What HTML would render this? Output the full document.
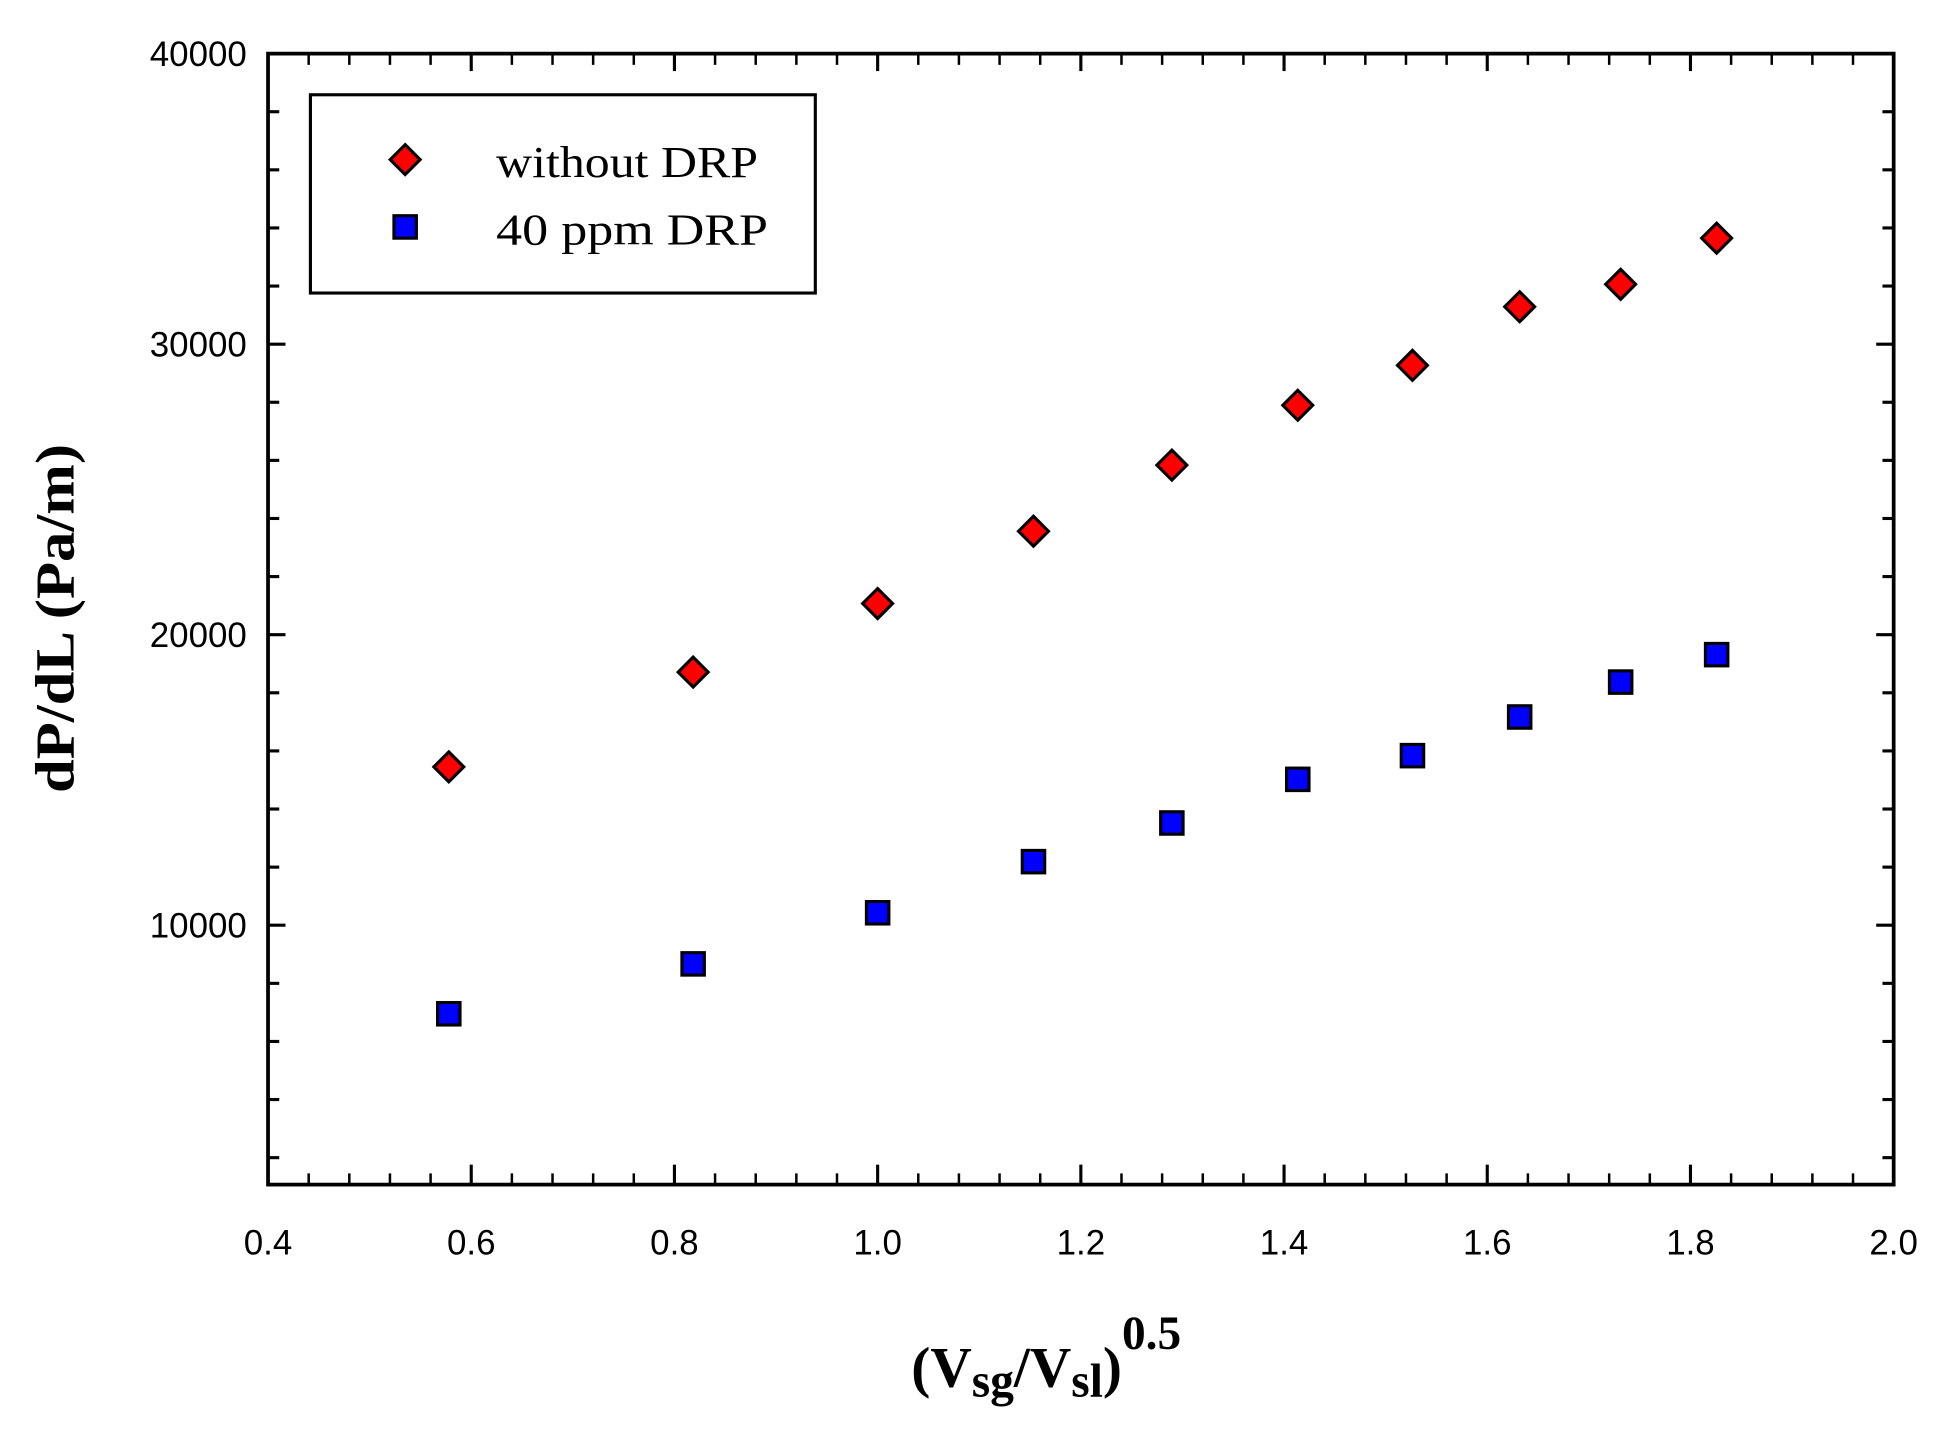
<!DOCTYPE html>
<html><head><style>html,body{margin:0;padding:0;background:#fff}svg{display:block}</style></head>
<body>
<svg width="1956" height="1429" viewBox="1 0 1569 1146" preserveAspectRatio="none" xmlns="http://www.w3.org/2000/svg">
<rect x="0" width="1570" height="1146" fill="#fff"/>
<g stroke="#000" stroke-width="3" fill="none">
<rect x="216" y="43" width="1304" height="907"/>
</g>
<g stroke="#000" stroke-width="2.5">
<line x1="216" y1="43" x2="230" y2="43"/><line x1="1506" y1="43" x2="1520" y2="43"/>
<line x1="216" y1="276" x2="230" y2="276"/><line x1="1506" y1="276" x2="1520" y2="276"/>
<line x1="216" y1="509" x2="230" y2="509"/><line x1="1506" y1="509" x2="1520" y2="509"/>
<line x1="216" y1="742" x2="230" y2="742"/><line x1="1506" y1="742" x2="1520" y2="742"/>
<line x1="216" y1="89.6" x2="225" y2="89.6"/><line x1="216" y1="136.2" x2="225" y2="136.2"/><line x1="216" y1="182.8" x2="225" y2="182.8"/><line x1="216" y1="229.4" x2="225" y2="229.4"/>
<line x1="216" y1="322.6" x2="225" y2="322.6"/><line x1="216" y1="369.2" x2="225" y2="369.2"/><line x1="216" y1="415.8" x2="225" y2="415.8"/><line x1="216" y1="462.4" x2="225" y2="462.4"/>
<line x1="216" y1="555.6" x2="225" y2="555.6"/><line x1="216" y1="602.2" x2="225" y2="602.2"/><line x1="216" y1="648.8" x2="225" y2="648.8"/><line x1="216" y1="695.4" x2="225" y2="695.4"/>
<line x1="216" y1="788.6" x2="225" y2="788.6"/><line x1="216" y1="835.2" x2="225" y2="835.2"/><line x1="216" y1="881.8" x2="225" y2="881.8"/><line x1="216" y1="928.4" x2="225" y2="928.4"/>
<line x1="1511" y1="89.6" x2="1520" y2="89.6"/><line x1="1511" y1="136.2" x2="1520" y2="136.2"/><line x1="1511" y1="182.8" x2="1520" y2="182.8"/><line x1="1511" y1="229.4" x2="1520" y2="229.4"/>
<line x1="1511" y1="322.6" x2="1520" y2="322.6"/><line x1="1511" y1="369.2" x2="1520" y2="369.2"/><line x1="1511" y1="415.8" x2="1520" y2="415.8"/><line x1="1511" y1="462.4" x2="1520" y2="462.4"/>
<line x1="1511" y1="555.6" x2="1520" y2="555.6"/><line x1="1511" y1="602.2" x2="1520" y2="602.2"/><line x1="1511" y1="648.8" x2="1520" y2="648.8"/><line x1="1511" y1="695.4" x2="1520" y2="695.4"/>
<line x1="1511" y1="788.6" x2="1520" y2="788.6"/><line x1="1511" y1="835.2" x2="1520" y2="835.2"/><line x1="1511" y1="881.8" x2="1520" y2="881.8"/><line x1="1511" y1="928.4" x2="1520" y2="928.4"/>
</g>
<g stroke="#000" stroke-width="2.5">
<line x1="379" y1="950" x2="379" y2="934"/><line x1="542" y1="950" x2="542" y2="934"/><line x1="705" y1="950" x2="705" y2="934"/><line x1="868" y1="950" x2="868" y2="934"/><line x1="1031" y1="950" x2="1031" y2="934"/><line x1="1194" y1="950" x2="1194" y2="934"/><line x1="1357" y1="950" x2="1357" y2="934"/>
<line x1="379" y1="43" x2="379" y2="57"/><line x1="542" y1="43" x2="542" y2="57"/><line x1="705" y1="43" x2="705" y2="57"/><line x1="868" y1="43" x2="868" y2="57"/><line x1="1031" y1="43" x2="1031" y2="57"/><line x1="1194" y1="43" x2="1194" y2="57"/><line x1="1357" y1="43" x2="1357" y2="57"/>
</g>
<g stroke="#000" stroke-width="2">
<path d="M248.6 950v-9M281.2 950v-9M313.8 950v-9M346.4 950v-9M411.6 950v-9M444.2 950v-9M476.8 950v-9M509.4 950v-9M574.6 950v-9M607.2 950v-9M639.8 950v-9M672.4 950v-9M737.6 950v-9M770.2 950v-9M802.8 950v-9M835.4 950v-9M900.6 950v-9M933.2 950v-9M965.8 950v-9M998.4 950v-9M1063.6 950v-9M1096.2 950v-9M1128.8 950v-9M1161.4 950v-9M1226.6 950v-9M1259.2 950v-9M1291.8 950v-9M1324.4 950v-9M1389.6 950v-9M1422.2 950v-9M1454.8 950v-9M1487.4 950v-9"/>
<path d="M248.6 43v9M281.2 43v9M313.8 43v9M346.4 43v9M411.6 43v9M444.2 43v9M476.8 43v9M509.4 43v9M574.6 43v9M607.2 43v9M639.8 43v9M672.4 43v9M737.6 43v9M770.2 43v9M802.8 43v9M835.4 43v9M900.6 43v9M933.2 43v9M965.8 43v9M998.4 43v9M1063.6 43v9M1096.2 43v9M1128.8 43v9M1161.4 43v9M1226.6 43v9M1259.2 43v9M1291.8 43v9M1324.4 43v9M1389.6 43v9M1422.2 43v9M1454.8 43v9M1487.4 43v9"/>
</g>
<g font-family="Liberation Sans, sans-serif" font-size="28" fill="#000" text-anchor="end">
<text x="199" y="53">40000</text><text x="199" y="286">30000</text><text x="199" y="519">20000</text><text x="199" y="752">10000</text>
</g>
<g font-family="Liberation Sans, sans-serif" font-size="28" fill="#000" text-anchor="middle">
<text x="216" y="1006">0.4</text><text x="379" y="1006">0.6</text><text x="542" y="1006">0.8</text><text x="705" y="1006">1.0</text><text x="868" y="1006">1.2</text><text x="1031" y="1006">1.4</text><text x="1194" y="1006">1.6</text><text x="1357" y="1006">1.8</text><text x="1520" y="1006">2.0</text>
</g>
<text transform="translate(60,496) rotate(-90)" font-family="Liberation Serif, serif" font-weight="bold" font-size="44" text-anchor="middle" textLength="280" lengthAdjust="spacingAndGlyphs">dP/dL (Pa/m)</text>
<text x="732" y="1112" font-family="Liberation Serif, serif" font-weight="bold" font-size="46">(V<tspan font-size="38" dy="8">sg</tspan><tspan dy="-8">/V</tspan><tspan font-size="38" dy="8">sl</tspan><tspan dy="-8">)</tspan><tspan font-size="38" dy="-30">0.5</tspan></text>
<rect x="250" y="76" width="405" height="159" fill="#fff" stroke="#000" stroke-width="2.5"/>
<g stroke="#000" stroke-width="2.5">
<g fill="#f00">
<path d="M326 116l12 12-12 12-12-12z"/>
<path d="M361 603l12 12-12 12-12-12z"/>
<path d="M557 527l12 12-12 12-12-12z"/>
<path d="M705 472l12 12-12 12-12-12z"/>
<path d="M830 414l12 12-12 12-12-12z"/>
<path d="M941 361l12 12-12 12-12-12z"/>
<path d="M1042 313l12 12-12 12-12-12z"/>
<path d="M1134 281l12 12-12 12-12-12z"/>
<path d="M1220 234l12 12-12 12-12-12z"/>
<path d="M1301 216l12 12-12 12-12-12z"/>
<path d="M1378 179l12 12-12 12-12-12z"/>
</g>
<g fill="#00f">
<rect x="317" y="173" width="18" height="18"/>
<rect x="352" y="804" width="18" height="18"/>
<rect x="548" y="764" width="18" height="18"/>
<rect x="696" y="723" width="18" height="18"/>
<rect x="821" y="682" width="18" height="18"/>
<rect x="932" y="651" width="18" height="18"/>
<rect x="1033" y="616" width="18" height="18"/>
<rect x="1125" y="597" width="18" height="18"/>
<rect x="1211" y="566" width="18" height="18"/>
<rect x="1292" y="538" width="18" height="18"/>
<rect x="1369" y="516" width="18" height="18"/>
</g>
</g>
<g font-family="Liberation Serif, serif" font-size="36" fill="#000">
<text x="399" y="142" textLength="210" lengthAdjust="spacingAndGlyphs">without DRP</text>
<text x="399" y="196" textLength="218" lengthAdjust="spacingAndGlyphs">40 ppm DRP</text>
</g>
</svg>
</body></html>
